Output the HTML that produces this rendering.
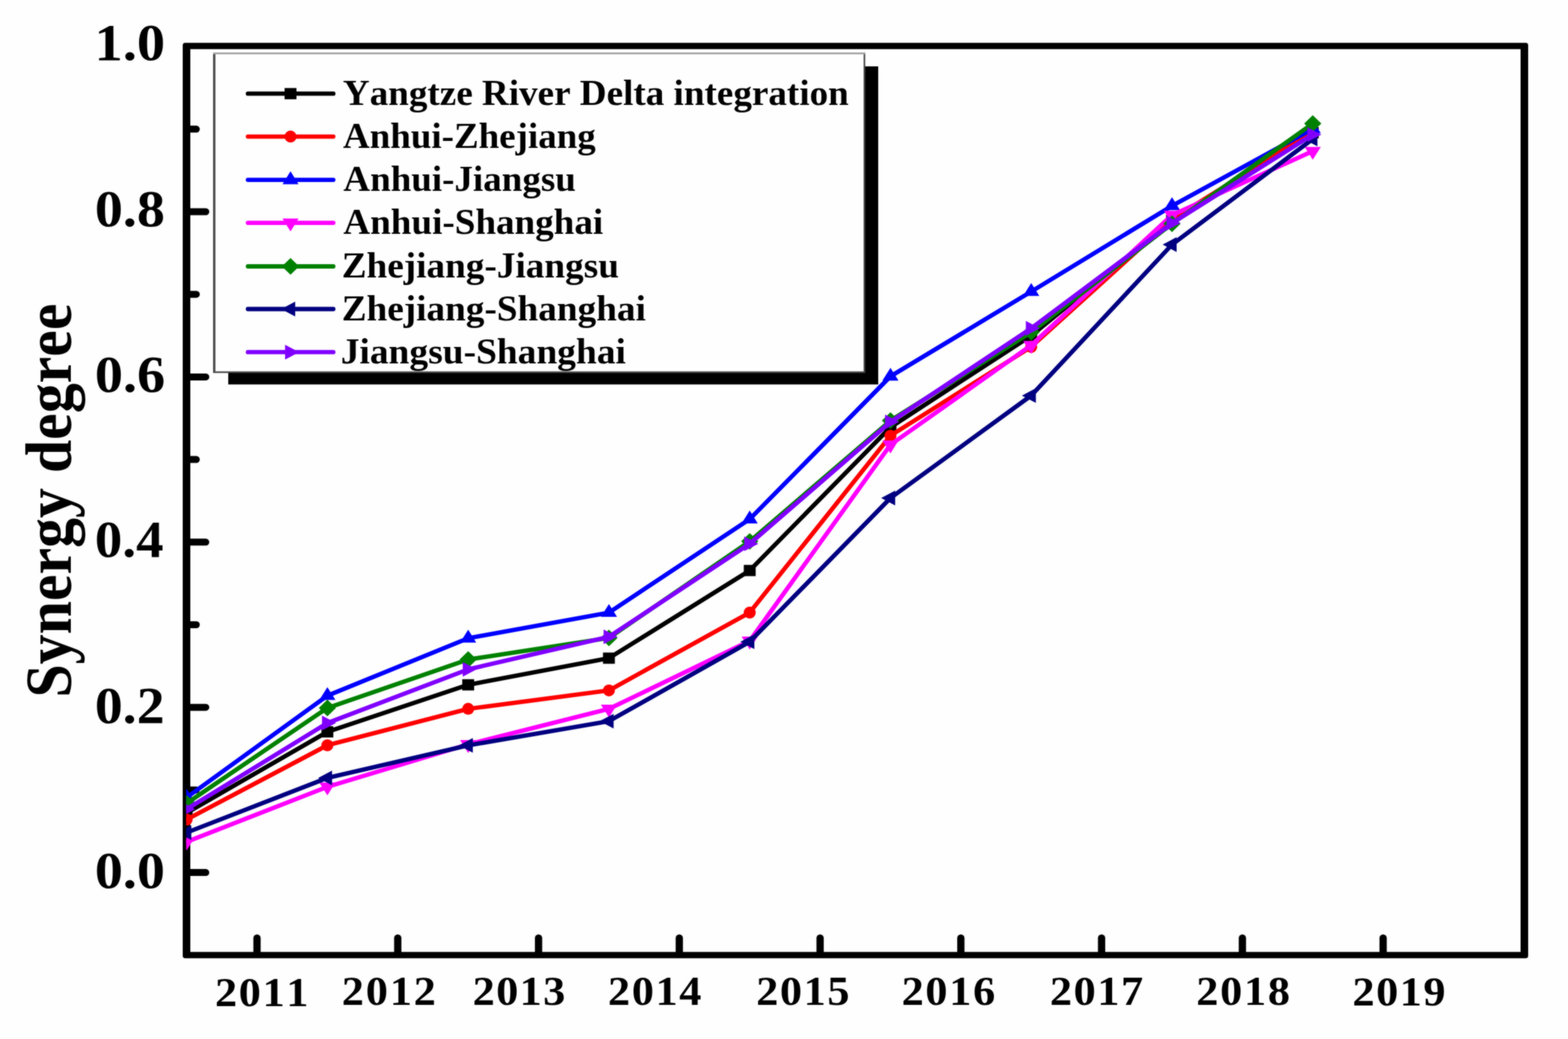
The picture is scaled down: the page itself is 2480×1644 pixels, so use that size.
<!DOCTYPE html>
<html lang="en"><head><meta charset="utf-8"><title>Synergy degree</title>
<style>
html,body{margin:0;padding:0;background:#fff;}
body{width:2480px;height:1644px;overflow:hidden;}
svg{display:block;}
text{font-family:"Liberation Serif","DejaVu Serif",serif;font-weight:bold;fill:#000;font-kerning:none;}
</style></head><body>
<svg width="2480" height="1644" viewBox="0 0 2480 1644">
<defs><filter id="soft" x="0" y="0" width="100%" height="100%" filterUnits="userSpaceOnUse" color-interpolation-filters="sRGB"><feGaussianBlur in="SourceGraphic" stdDeviation="0.8" result="b"/><feComposite in="SourceGraphic" in2="b" operator="arithmetic" k1="0" k2="0.45" k3="0.55" k4="0"/></filter></defs>
<rect width="2480" height="1644" fill="#fefefe"/>
<g filter="url(#soft)">
<rect width="2480" height="1644" fill="#fefefe"/>
<g id="frame" fill="#000">
<path fill-rule="evenodd" d="M293.0,67.8 H2413.0 Q2417.0,67.8 2417.0,71.8 V1512.2 Q2417.0,1516.2 2413.0,1516.2 H293.0 Q289.0,1516.2 289.0,1512.2 V71.8 Q289.0,67.8 293.0,67.8 Z M301.0,77.8 V1506.2 H2405.0 V77.8 Z"/>
</g>
<g id="ticks" stroke="#000" stroke-linecap="round" fill="none">
<line x1="299.0" y1="1380.6" x2="325.5" y2="1380.6" stroke-width="11"/>
<line x1="299.0" y1="1119.2" x2="325.5" y2="1119.2" stroke-width="11"/>
<line x1="299.0" y1="857.8" x2="325.5" y2="857.8" stroke-width="11"/>
<line x1="299.0" y1="596.4" x2="325.5" y2="596.4" stroke-width="11"/>
<line x1="299.0" y1="335.0" x2="325.5" y2="335.0" stroke-width="11"/>
<line x1="299.0" y1="1249.9" x2="310.5" y2="1249.9" stroke-width="11"/>
<line x1="299.0" y1="988.5" x2="310.5" y2="988.5" stroke-width="11"/>
<line x1="299.0" y1="727.1" x2="310.5" y2="727.1" stroke-width="11"/>
<line x1="299.0" y1="465.7" x2="310.5" y2="465.7" stroke-width="11"/>
<line x1="299.0" y1="204.3" x2="310.5" y2="204.3" stroke-width="11"/>
<line x1="406.5" y1="1508.2" x2="406.5" y2="1484.3" stroke-width="11.5"/>
<line x1="629.1" y1="1508.2" x2="629.1" y2="1484.3" stroke-width="11.5"/>
<line x1="851.8" y1="1508.2" x2="851.8" y2="1484.3" stroke-width="11.5"/>
<line x1="1074.4" y1="1508.2" x2="1074.4" y2="1484.3" stroke-width="11.5"/>
<line x1="1297.1" y1="1508.2" x2="1297.1" y2="1484.3" stroke-width="11.5"/>
<line x1="1519.7" y1="1508.2" x2="1519.7" y2="1484.3" stroke-width="11.5"/>
<line x1="1742.3" y1="1508.2" x2="1742.3" y2="1484.3" stroke-width="11.5"/>
<line x1="1965.0" y1="1508.2" x2="1965.0" y2="1484.3" stroke-width="11.5"/>
<line x1="2187.6" y1="1508.2" x2="2187.6" y2="1484.3" stroke-width="11.5"/>
</g>
<g id="legend-box">
<rect x="361" y="105" width="1028" height="503.3" fill="#000"/>
<rect x="337" y="83.4" width="1031.5" height="506.8" fill="#484848"/>
<rect x="337" y="83.4" width="1031.5" height="2.4" fill="#a8a8a8"/>
<rect x="340.7" y="85.8" width="1025.2" height="501.8" fill="#fefefe"/>
</g>
<defs><clipPath id="plot"><rect x="294.5" y="72.8" width="2116.5" height="1438.7"/></clipPath></defs>
<g id="data" clip-path="url(#plot)">
<g><polyline points="295.2,1286.3 517.8,1158.0 740.5,1083.6 963.1,1041.4 1185.8,902.7 1408.4,676.0 1631.0,531.0 1853.7,349.0 2076.3,210.0" fill="none" stroke="#000000" stroke-width="6.9" stroke-linejoin="round" stroke-linecap="round"/>
<rect x="285.8" y="1277.4" width="18.8" height="17.8" fill="#000000"/>
<rect x="508.4" y="1149.1" width="18.8" height="17.8" fill="#000000"/>
<rect x="731.1" y="1074.7" width="18.8" height="17.8" fill="#000000"/>
<rect x="953.7" y="1032.5" width="18.8" height="17.8" fill="#000000"/>
<rect x="1176.4" y="893.8" width="18.8" height="17.8" fill="#000000"/>
<rect x="1399.0" y="667.1" width="18.8" height="17.8" fill="#000000"/>
<rect x="1621.6" y="522.1" width="18.8" height="17.8" fill="#000000"/>
<rect x="1844.3" y="340.1" width="18.8" height="17.8" fill="#000000"/>
<rect x="2066.9" y="201.1" width="18.8" height="17.8" fill="#000000"/>
</g>
<g><polyline points="295.2,1296.8 517.8,1179.2 740.5,1121.6 963.1,1092.4 1185.8,969.2 1408.4,689.4 1631.0,548.8 1853.7,347.0 2076.3,208.0" fill="none" stroke="#ff0000" stroke-width="6.9" stroke-linejoin="round" stroke-linecap="round"/>
<ellipse cx="295.2" cy="1296.8" rx="9.5" ry="9.5" fill="#ff0000"/>
<ellipse cx="517.8" cy="1179.2" rx="9.5" ry="9.5" fill="#ff0000"/>
<ellipse cx="740.5" cy="1121.6" rx="9.5" ry="9.5" fill="#ff0000"/>
<ellipse cx="963.1" cy="1092.4" rx="9.5" ry="9.5" fill="#ff0000"/>
<ellipse cx="1185.8" cy="969.2" rx="9.5" ry="9.5" fill="#ff0000"/>
<ellipse cx="1408.4" cy="689.4" rx="9.5" ry="9.5" fill="#ff0000"/>
<ellipse cx="1631.0" cy="548.8" rx="9.5" ry="9.5" fill="#ff0000"/>
<ellipse cx="1853.7" cy="347.0" rx="9.5" ry="9.5" fill="#ff0000"/>
<ellipse cx="2076.3" cy="208.0" rx="9.5" ry="9.5" fill="#ff0000"/>
</g>
<g><polyline points="295.2,1261.8 517.8,1100.8 740.5,1009.9 963.1,969.3 1185.8,821.4 1408.4,595.5 1631.0,461.4 1853.7,325.7 2076.3,204.0" fill="none" stroke="#0000ff" stroke-width="6.9" stroke-linejoin="round" stroke-linecap="round"/>
<polygon points="295.2,1248.2 282.4,1268.6 307.9,1268.6" fill="#0000ff"/>
<polygon points="517.8,1087.2 505.1,1107.6 530.6,1107.6" fill="#0000ff"/>
<polygon points="740.5,996.3 727.7,1016.7 753.2,1016.7" fill="#0000ff"/>
<polygon points="963.1,955.7 950.4,976.1 975.9,976.1" fill="#0000ff"/>
<polygon points="1185.8,807.8 1173.0,828.2 1198.5,828.2" fill="#0000ff"/>
<polygon points="1408.4,581.9 1395.6,602.3 1421.1,602.3" fill="#0000ff"/>
<polygon points="1631.0,447.8 1618.3,468.2 1643.8,468.2" fill="#0000ff"/>
<polygon points="1853.7,312.1 1840.9,332.5 1866.4,332.5" fill="#0000ff"/>
<polygon points="2076.3,190.4 2063.6,210.8 2089.1,210.8" fill="#0000ff"/>
</g>
<g><polyline points="295.2,1332.0 517.8,1245.0 740.5,1177.8 963.1,1121.7 1185.8,1014.1 1408.4,703.8 1631.0,546.3 1853.7,340.3 2076.3,239.2" fill="none" stroke="#ff00ff" stroke-width="6.9" stroke-linejoin="round" stroke-linecap="round"/>
<polygon points="295.2,1345.6 282.4,1325.2 307.9,1325.2" fill="#ff00ff"/>
<polygon points="517.8,1258.6 505.1,1238.2 530.6,1238.2" fill="#ff00ff"/>
<polygon points="740.5,1191.4 727.7,1171.0 753.2,1171.0" fill="#ff00ff"/>
<polygon points="963.1,1135.3 950.4,1114.9 975.9,1114.9" fill="#ff00ff"/>
<polygon points="1185.8,1027.7 1173.0,1007.3 1198.5,1007.3" fill="#ff00ff"/>
<polygon points="1408.4,717.4 1395.6,697.0 1421.1,697.0" fill="#ff00ff"/>
<polygon points="1631.0,559.9 1618.3,539.5 1643.8,539.5" fill="#ff00ff"/>
<polygon points="1853.7,353.9 1840.9,333.5 1866.4,333.5" fill="#ff00ff"/>
<polygon points="2076.3,252.8 2063.6,232.4 2089.1,232.4" fill="#ff00ff"/>
</g>
<g><polyline points="295.2,1271.1 517.8,1120.2 740.5,1043.5 963.1,1009.4 1185.8,856.6 1408.4,665.5 1631.0,525.6 1853.7,354.0 2076.3,195.5" fill="none" stroke="#008000" stroke-width="6.9" stroke-linejoin="round" stroke-linecap="round"/>
<polygon points="295.2,1257.9 308.8,1271.1 295.2,1284.3 281.6,1271.1" fill="#008000"/>
<polygon points="517.8,1107.0 531.4,1120.2 517.8,1133.4 504.2,1120.2" fill="#008000"/>
<polygon points="740.5,1030.3 754.1,1043.5 740.5,1056.7 726.9,1043.5" fill="#008000"/>
<polygon points="963.1,996.2 976.7,1009.4 963.1,1022.6 949.5,1009.4" fill="#008000"/>
<polygon points="1185.8,843.4 1199.4,856.6 1185.8,869.8 1172.2,856.6" fill="#008000"/>
<polygon points="1408.4,652.3 1422.0,665.5 1408.4,678.7 1394.8,665.5" fill="#008000"/>
<polygon points="1631.0,512.4 1644.6,525.6 1631.0,538.8 1617.4,525.6" fill="#008000"/>
<polygon points="1853.7,340.8 1867.3,354.0 1853.7,367.2 1840.1,354.0" fill="#008000"/>
<polygon points="2076.3,182.3 2089.9,195.5 2076.3,208.7 2062.7,195.5" fill="#008000"/>
</g>
<g><polyline points="295.2,1317.4 517.8,1230.9 740.5,1179.4 963.1,1141.1 1185.8,1015.4 1408.4,788.0 1631.0,625.9 1853.7,387.0 2076.3,219.9" fill="none" stroke="#000080" stroke-width="6.9" stroke-linejoin="round" stroke-linecap="round"/>
<polygon points="280.5,1317.4 302.6,1305.7 302.6,1329.1" fill="#000080"/>
<polygon points="503.1,1230.9 525.2,1219.2 525.2,1242.6" fill="#000080"/>
<polygon points="725.7,1179.4 747.8,1167.7 747.8,1191.1" fill="#000080"/>
<polygon points="948.4,1141.1 970.5,1129.4 970.5,1152.8" fill="#000080"/>
<polygon points="1171.0,1015.4 1193.1,1003.7 1193.1,1027.1" fill="#000080"/>
<polygon points="1393.7,788.0 1415.8,776.3 1415.8,799.7" fill="#000080"/>
<polygon points="1616.3,625.9 1638.4,614.2 1638.4,637.6" fill="#000080"/>
<polygon points="1838.9,387.0 1861.0,375.3 1861.0,398.7" fill="#000080"/>
<polygon points="2061.6,219.9 2083.7,208.2 2083.7,231.6" fill="#000080"/>
</g>
<g><polyline points="295.2,1280.4 517.8,1144.0 740.5,1059.1 963.1,1007.6 1185.8,860.4 1408.4,667.6 1631.0,519.5 1853.7,353.0 2076.3,212.9" fill="none" stroke="#8000ff" stroke-width="6.9" stroke-linejoin="round" stroke-linecap="round"/>
<polygon points="308.7,1280.4 286.6,1268.7 286.6,1292.1" fill="#8000ff"/>
<polygon points="531.4,1144.0 509.3,1132.3 509.3,1155.7" fill="#8000ff"/>
<polygon points="754.0,1059.1 731.9,1047.4 731.9,1070.8" fill="#8000ff"/>
<polygon points="976.7,1007.6 954.6,995.9 954.6,1019.3" fill="#8000ff"/>
<polygon points="1199.3,860.4 1177.2,848.7 1177.2,872.1" fill="#8000ff"/>
<polygon points="1421.9,667.6 1399.8,655.9 1399.8,679.3" fill="#8000ff"/>
<polygon points="1644.6,519.5 1622.5,507.8 1622.5,531.2" fill="#8000ff"/>
<polygon points="1867.2,353.0 1845.1,341.3 1845.1,364.7" fill="#8000ff"/>
<polygon points="2089.9,212.9 2067.8,201.2 2067.8,224.6" fill="#8000ff"/>
</g>
</g>
<g id="legend">
<line x1="392.1" y1="148.2" x2="527.2" y2="148.2" stroke="#000000" stroke-width="6.8" stroke-linecap="round"/>
<rect x="450.1" y="139.3" width="18.8" height="17.8" fill="#000000"/>
<line x1="392.1" y1="216.1" x2="527.2" y2="216.1" stroke="#ff0000" stroke-width="6.8" stroke-linecap="round"/>
<ellipse cx="459.5" cy="216.1" rx="9.5" ry="9.5" fill="#ff0000"/>
<line x1="392.1" y1="284.6" x2="527.2" y2="284.6" stroke="#0000ff" stroke-width="6.8" stroke-linecap="round"/>
<polygon points="459.5,271.0 446.8,291.4 472.2,291.4" fill="#0000ff"/>
<line x1="392.1" y1="352.6" x2="527.2" y2="352.6" stroke="#ff00ff" stroke-width="6.8" stroke-linecap="round"/>
<polygon points="459.5,366.2 446.8,345.8 472.2,345.8" fill="#ff00ff"/>
<line x1="392.1" y1="421.5" x2="527.2" y2="421.5" stroke="#008000" stroke-width="6.8" stroke-linecap="round"/>
<polygon points="459.5,408.3 473.1,421.5 459.5,434.7 445.9,421.5" fill="#008000"/>
<line x1="392.1" y1="489.0" x2="527.2" y2="489.0" stroke="#000080" stroke-width="6.8" stroke-linecap="round"/>
<polygon points="444.8,489.0 466.9,477.3 466.9,500.7" fill="#000080"/>
<line x1="392.1" y1="557.2" x2="527.2" y2="557.2" stroke="#8000ff" stroke-width="6.8" stroke-linecap="round"/>
<polygon points="473.0,557.2 450.9,545.5 450.9,568.9" fill="#8000ff"/>
<text transform="translate(542.37 165.80) scale(1.0386 1)" font-size="56.5">Yangtze River Delta integration</text>
<text transform="translate(542.41 234.10) scale(1.0355 1)" font-size="56.5">Anhui-Zhejiang</text>
<text transform="translate(543.11 301.60) scale(1.0364 1)" font-size="56.5">Anhui-Jiangsu</text>
<text transform="translate(543.11 369.90) scale(1.0389 1)" font-size="56.5">Anhui-Shanghai</text>
<text transform="translate(540.40 439.40) scale(1.0424 1)" font-size="56.5">Zhejiang-Jiangsu</text>
<text transform="translate(540.40 506.60) scale(1.0426 1)" font-size="56.5">Zhejiang-Shanghai</text>
<text transform="translate(538.93 575.10) scale(1.0488 1)" font-size="56.5">Jiangsu-Shanghai</text>
</g>
<g id="ylabels">
<text transform="translate(149.56 95.40) scale(1.0821 1)" font-size="82.5">1.0</text>
<text transform="translate(149.97 357.90) scale(1.0765 1)" font-size="82.5">0.8</text>
<text transform="translate(149.96 619.90) scale(1.0794 1)" font-size="82.5">0.6</text>
<text transform="translate(150.05 880.90) scale(1.0519 1)" font-size="82.5">0.4</text>
<text transform="translate(149.99 1143.50) scale(1.0692 1)" font-size="82.5">0.2</text>
<text transform="translate(149.97 1405.00) scale(1.0760 1)" font-size="82.5">0.0</text>
</g>
<g id="xlabels">
<text transform="translate(340.01 1591.50) scale(1.0600 1)" font-size="66.3" style="letter-spacing:2.30px">2011</text>
<text transform="translate(540.61 1590.00) scale(1.0600 1)" font-size="66.3" style="letter-spacing:2.62px">2012</text>
<text transform="translate(747.61 1589.50) scale(1.0600 1)" font-size="66.3" style="letter-spacing:1.88px">2013</text>
<text transform="translate(961.51 1589.80) scale(1.0600 1)" font-size="66.3" style="letter-spacing:2.35px">2014</text>
<text transform="translate(1196.01 1590.00) scale(1.0600 1)" font-size="66.3" style="letter-spacing:2.22px">2015</text>
<text transform="translate(1425.91 1589.50) scale(1.0600 1)" font-size="66.3" style="letter-spacing:2.40px">2016</text>
<text transform="translate(1660.41 1589.50) scale(1.0600 1)" font-size="66.3" style="letter-spacing:2.23px">2017</text>
<text transform="translate(1892.01 1589.50) scale(1.0600 1)" font-size="66.3" style="letter-spacing:2.46px">2018</text>
<text transform="translate(2139.01 1591.10) scale(1.0600 1)" font-size="66.3" style="letter-spacing:2.17px">2019</text>
</g>
<text transform="translate(111.6 1103.87) rotate(-90) scale(0.9199 1)" font-size="103">Synergy degree</text>
</g>
</svg>
</body></html>
